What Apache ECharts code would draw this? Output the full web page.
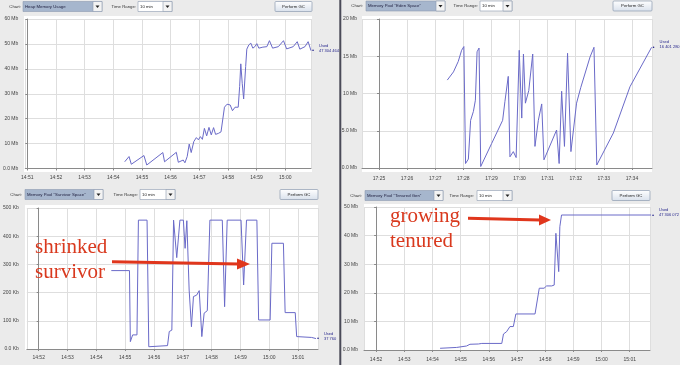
<!DOCTYPE html>
<html><head><meta charset="utf-8">
<script src="https://cdn.jsdelivr.net/npm/echarts@6/dist/echarts.min.js"></script>
<style>html,body{margin:0;padding:0;background:#ebebeb}#c{width:680px;height:365px}</style>
</head><body><div id="c"></div>
<script>
// ---------- DATA ----------
// Heap Memory Usage (minutes after 14:51, Mb)
const heapT = [3.40,3.55,3.63,4.07,4.17,4.73,4.79,5.20,5.27,5.44,5.50,5.58,5.65,5.72,5.81,5.90,5.97,6.04,6.11,6.18,6.26,6.34,6.42,6.50,6.57,6.67,6.76,6.88,6.97,7.08,7.16,7.25,7.36,7.41,7.45,7.50,7.55,7.62,7.66,7.73,7.80,7.87,7.94,8.01,8.08,8.22,8.36,8.45,8.56,8.76,8.94,9.05,9.28,9.42,9.51,9.69,9.80,9.90];
const heapMb = [2.7,4.8,1.7,5.2,1.4,6.4,2.7,6.5,2.5,3.4,2.3,4.8,9.8,6.4,10.8,12.4,11.5,12.8,11.7,16.1,13.1,16.5,13.5,16.4,13.7,14.1,14.7,24.6,25.8,25.5,23.2,24.6,24.6,32.9,42.0,34.2,27.9,40.9,47.9,49.6,50.3,48.3,48.9,50.1,48.3,48.7,48.9,51.3,48.3,48.9,51.3,48.0,48.9,50.9,47.9,48.9,50.9,47.3];
// Memory Pool "Eden Space" (minutes after 17:25, Mb)
const edenT = [2.43,2.65,2.82,2.94,3.02,3.08,3.18,3.26,3.36,3.43,3.49,3.56,3.62,4.01,4.40,4.48,4.60,4.66,4.78,4.88,4.92,4.99,5.08,5.14,5.21,5.33,5.47,5.55,5.67,5.79,5.87,6.32,6.41,6.50,6.60,6.71,6.83,7.03,7.18,7.51,7.65,7.75,8.34,8.93,9.70];
const edenMb = [11.8,12.9,14.3,15.8,16.3,0.6,1.2,6.4,7.6,9.1,15.6,16.1,0.2,3.3,6.4,8.9,12.3,1.5,2.2,1.4,1.2,15.8,6.7,15.3,8.7,10.4,15.3,2.9,6.4,8.6,1.1,5.1,0.6,10.3,2.9,15.4,2.2,8.7,10.8,14.9,16.2,0.4,4.7,10.9,16.2];
// Memory Pool "Survivor Space" (minutes after 14:52, Kb)
const survT = [2.52,3.15,3.18,3.26,3.41,3.46,3.76,3.82,4.47,4.53,4.62,4.68,4.79,4.90,5.02,5.08,5.14,5.22,5.30,5.37,5.48,5.57,5.66,5.74,5.85,5.94,6.37,6.45,6.54,7.02,7.11,7.21,7.57,7.63,8.03,8.09,8.49,8.55,8.90,8.95,9.47,9.62];
const survKb = [278,278,26,50,50,457,457,8,12,62,67,457,324,457,457,357,455,209,79,186,191,207,44,127,136,457,457,150,457,457,227,457,457,103,103,375,375,129,129,44,41,37];
// Memory Pool "Tenured Gen" (minutes after 14:52, Mb)
const tenT = [2.27,2.86,3.21,3.33,3.63,3.75,4.46,4.52,4.63,4.75,4.87,4.96,5.64,5.79,5.96,6.05,6.23,6.27,6.32,6.38,6.48,6.52,6.58,9.78];
const tenMb = [0.6,0.9,1.4,2.0,2.1,2.3,2.3,5.6,6.4,8.2,8.2,12.6,12.6,21.6,21.6,22.4,22.4,22.7,22.7,40.8,27.4,43.1,47.2,47.2];

// tick labels
const heapXLabels = ['14:51','14:52','14:53','14:54','14:55','14:56','14:57','14:58','14:59','15:00'];
const edenXLabels = ['17:25','17:26','17:27','17:28','17:29','17:30','17:31','17:32','17:33','17:34'];
const survXLabels = ['14:52','14:53','14:54','14:55','14:56','14:57','14:58','14:59','15:00','15:01'];
const tenXLabels  = ['14:52','14:53','14:54','14:55','14:56','14:57','14:58','14:59','15:00','15:01'];
const heapYLabels = ['0.0 Mb','10 Mb','20 Mb','30 Mb','40 Mb','50 Mb','60 Mb'];
const edenYLabels = ['0.0 Mb','5.0 Mb','10 Mb','15 Mb','20 Mb'];
const survYLabels = ['0.0 Kb','100 Kb','200 Kb','300 Kb','400 Kb','500 Kb'];
const tenYLabels  = ['0.0 Mb','10 Mb','20 Mb','30 Mb','40 Mb','50 Mb'];

const chartNames = ['Heap Memory Usage','Memory Pool "Eden Space"','Memory Pool "Survivor Space"','Memory Pool "Tenured Gen"'];
const usedValues = ['47 304 464','16 401 280','37 760','47 306 072'];
const timeRange = '10 min';
const buttonText = 'Perform GC';
const notes = [['shrinked','survivor'],['growing','tenured']];

// ---------- LAYOUT ----------
const FONT = 'Liberation Sans';
const LINE = '#6a6ac8';
const panels = [
  {t:heapT, v:heapMb, xl:heapXLabels, yl:heapYLabels, yInt:10, grid:{left:24, top:19, width:287, height:149.5}, xr:[-0.07,9.9], xOff:5, yOff:3, bg:[24,16,288,156]},
  {t:edenT, v:edenMb, xl:edenXLabels, yl:edenYLabels, yInt:5, grid:{left:362, top:19, width:290, height:149}, xr:[-0.605,9.715], xOff:6, yOff:1, bg:[362,16,290,156]},
  {t:survT, v:survKb, xl:survXLabels, yl:survYLabels, yInt:100, grid:{left:25, top:208, width:293, height:141}, xr:[-0.41,9.69], xOff:4, yOff:4, bg:[25,205,293,145]},
  {t:tenT, v:tenMb, xl:tenXLabels, yl:tenYLabels, yInt:10, grid:{left:364, top:207, width:286, height:143}, xr:[-0.43,9.72], xOff:5, yOff:2, bg:[364,204,286,147]}
];
const bars = [
  {y:6.5, chartX:21, dd:[23,79], trX:136, td:[138,34], gc:[275,37]},
  {y:6, chartX:363, dd:[366,79], trX:478, td:[480,32], gc:[613,39]},
  {y:194.5, chartX:22, dd:[25,78], trX:138, td:[140,35], gc:[280,38]},
  {y:195.5, chartX:362, dd:[365,78], trX:474, td:[477,35], gc:[612,38]}
];

const grids = [], xAxes = [], yAxes = [], series = [], graphic = [];
panels.forEach((p, i) => {
  grids.push(p.grid);
  xAxes.push({
    type:'value', gridIndex:i, min:p.xr[0], max:p.xr[1], splitNumber:10, offset:p.xOff,
    axisLine:{show:true, lineStyle:{color:'#8a8a8a', width:1}},
    axisTick:{show:true, length:2, lineStyle:{color:'#8a8a8a'}},
    splitLine:{show:true, lineStyle:{color:'#dedede', width:1}},
    axisLabel:{show:true, showMinLabel:false, showMaxLabel:false, margin:2, fontSize:5, fontFamily:FONT, color:'#444',
      formatter:(v)=>{const k=Math.round(v); return Math.abs(v-k)<1e-6 && p.xl[k]!==undefined ? p.xl[k] : '';}}
  });
  yAxes.push({
    type:'value', gridIndex:i, min:0, max:p.yInt*(p.yl.length-1), interval:p.yInt, offset:p.yOff,
    axisLine:{show:true, lineStyle:{color:'#8a8a8a', width:1}},
    axisTick:{show:true, length:2, lineStyle:{color:'#8a8a8a'}},
    splitLine:{show:true, lineStyle:{color:'#dedede', width:1}},
    axisLabel:{margin:4, fontSize:5, fontFamily:FONT, color:'#444',
      formatter:(v)=>p.yl[Math.round(v/p.yInt)] || ''}
  });
  series.push({
    type:'line', xAxisIndex:i, yAxisIndex:i, showSymbol:false, symbol:'none', silent:true,
    data:p.t.map((t,k)=>[t,p.v[k]]),
    lineStyle:{color:LINE, width:1},
    endLabel:{show:true, distance:1, offset:[0,-2.5],
      formatter:()=>'{sp| }{u|Used}\n{d|•}{n|'+usedValues[i]+'}',
      rich:{sp:{width:7, fontSize:4}, u:{fontSize:4, fontFamily:FONT, color:'#26268c', lineHeight:5},
            d:{width:7, fontSize:6, color:'#26268c', lineHeight:5}, n:{fontSize:4, fontFamily:FONT, color:'#26268c', lineHeight:5}}}
  });
  graphic.push({type:'rect', z:-10, shape:{x:p.bg[0], y:p.bg[1], width:p.bg[2], height:p.bg[3]}, style:{fill:'#ffffff'}});
});

// toolbars
bars.forEach((b, i) => {
  const h = 10, y0 = b.y - 5;
  const txt = (x, text, align, fill) => ({type:'text', z:20, x:x, y:b.y, style:{text:text, fill:fill||'#333', fontSize:4.3, fontFamily:FONT, align:align||'left', verticalAlign:'middle'}});
  const arrowBox = (x0, w) => {
    const ax = x0 + w - 4.5;
    return [
      {type:'rect', z:20, shape:{x:x0+w-9, y:y0, width:9, height:h}, style:{fill:'#f3f3f3', stroke:'#8d9bb0', lineWidth:0.6}},
      {type:'polygon', z:21, shape:{points:[[ax-2,b.y-1],[ax+2,b.y-1],[ax,b.y+1.5]]}, style:{fill:'#222'}}
    ];
  };
  graphic.push(txt(b.chartX, 'Chart:', 'right'));
  graphic.push({type:'rect', z:20, shape:{x:b.dd[0], y:y0, width:b.dd[1], height:h}, style:{fill:'#a6b6cd', stroke:'#8d9bb0', lineWidth:0.6}});
  graphic.push(txt(b.dd[0]+2, chartNames[i], 'left', '#1c1c3c'));
  graphic.push(...arrowBox(b.dd[0], b.dd[1]));
  graphic.push(txt(b.trX, 'Time Range:', 'right'));
  graphic.push({type:'rect', z:20, shape:{x:b.td[0], y:y0, width:b.td[1], height:h}, style:{fill:'#ffffff', stroke:'#8d9bb0', lineWidth:0.6}});
  graphic.push(txt(b.td[0]+2, timeRange, 'left', '#222'));
  graphic.push(...arrowBox(b.td[0], b.td[1]));
  graphic.push({type:'rect', z:20, shape:{x:b.gc[0], y:y0, width:b.gc[1], height:h, r:1},
    style:{fill:new echarts.graphic.LinearGradient(0,0,0,1,[{offset:0,color:'#ffffff'},{offset:1,color:'#d9e1ec'}]), stroke:'#8d9bb0', lineWidth:0.7}});
  graphic.push(txt(b.gc[0]+b.gc[1]/2, buttonText, 'center', '#222'));
});

// separator
graphic.push({type:'rect', z:30, shape:{x:339.3, y:0, width:2, height:365}, style:{fill:'#4a4a58'}});

// annotations
const RED = '#d9391e';
const serif = (x, y, t) => ({type:'text', z:40, x:x, y:y, style:{text:t, fill:RED, fontSize:21, fontFamily:'Liberation Serif', align:'left', verticalAlign:'middle'}});
graphic.push(serif(35, 247, notes[0][0]), serif(35, 272, notes[0][1]));
graphic.push(serif(390, 216, notes[1][0]), serif(390, 241, notes[1][1]));
graphic.push({type:'line', z:40, shape:{x1:112, y1:261.7, x2:239, y2:264}, style:{stroke:'#e0361c', lineWidth:3}});
graphic.push({type:'polygon', z:40, shape:{points:[[237,258.5],[250,264],[237,269.5]]}, style:{fill:'#e0361c'}});
graphic.push({type:'line', z:40, shape:{x1:468, y1:218.3, x2:540, y2:220}, style:{stroke:'#e0361c', lineWidth:3}});
graphic.push({type:'polygon', z:40, shape:{points:[[539,214.5],[551,220],[539,225.5]]}, style:{fill:'#e0361c'}});

const chart = echarts.init(document.getElementById('c'), null, {renderer:'canvas'});
chart.setOption({
  animation:false,
  backgroundColor:'#ebebeb',
  grid:grids, xAxis:xAxes, yAxis:yAxes, series:series, graphic:graphic
});
</script>
</body></html>
